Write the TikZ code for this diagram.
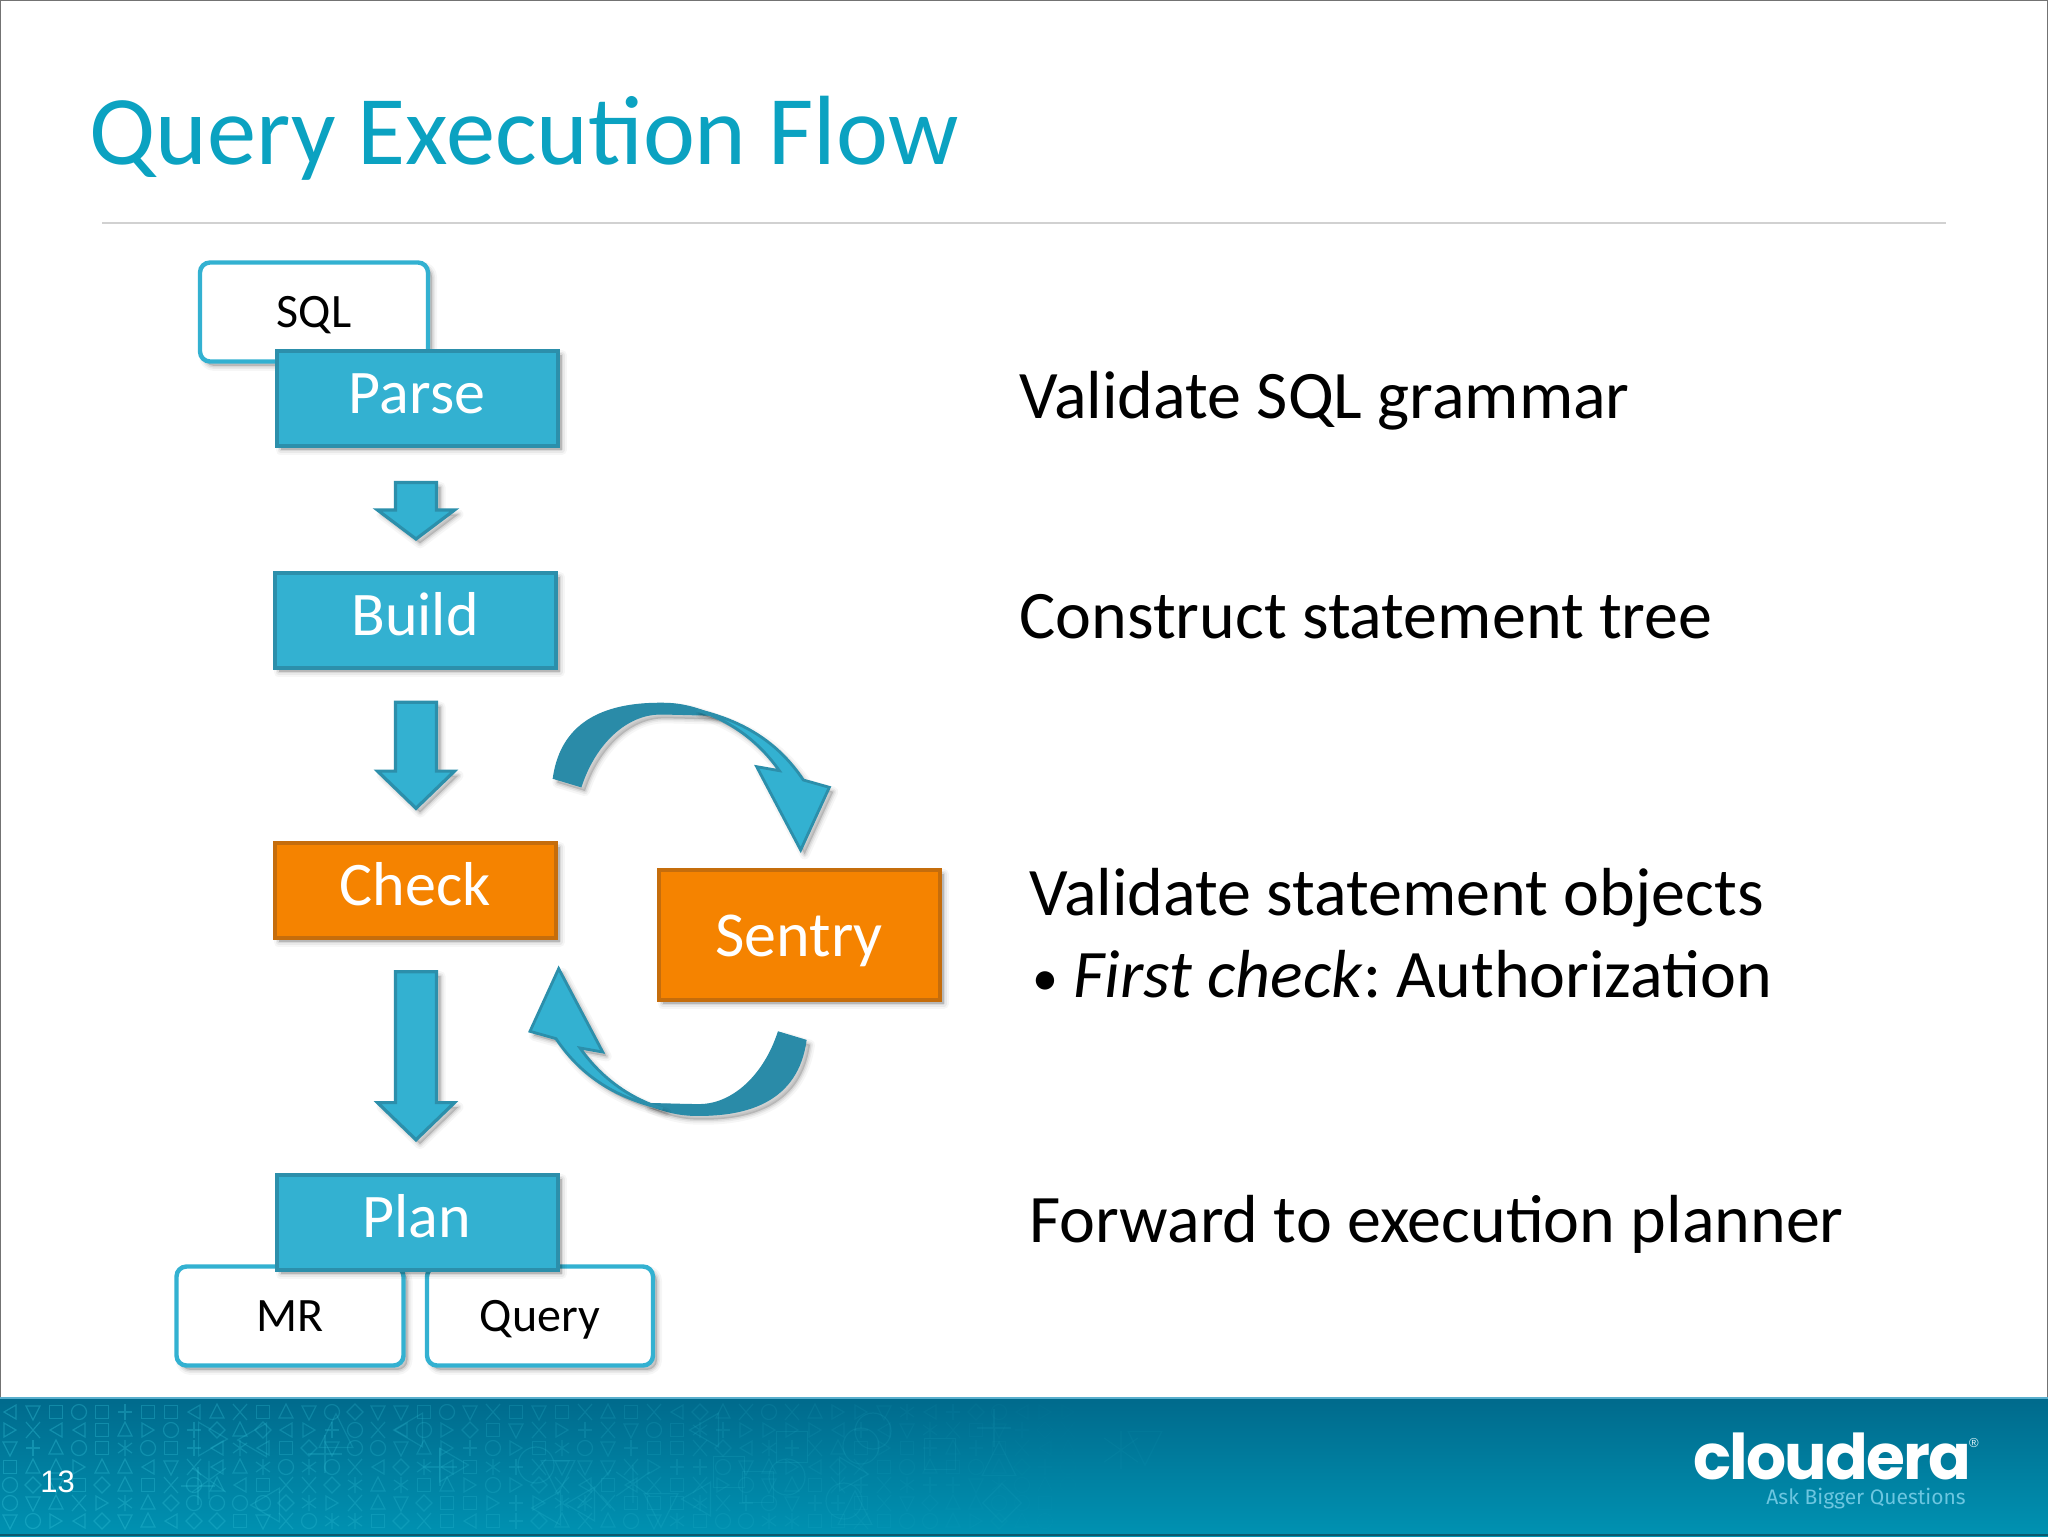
\documentclass[tikz,border=0pt]{standalone}
\usepackage{fontspec}
\setmainfont{Carlito}
\newfontfamily\logofont{Poppins}[LetterSpace=-3]
\newfontfamily\tagfont{Fira Sans}
\newfontfamily\numfont{Liberation Sans}
\usetikzlibrary{shapes.arrows}
\definecolor{blueFill}{HTML}{33B1D1}
\definecolor{blueEdge}{HTML}{2C8FAB}
\definecolor{ribbon}{HTML}{2A8BA8}
\definecolor{orangeFill}{HTML}{F58300}
\definecolor{orangeEdge}{HTML}{C56D0C}
\definecolor{titleBlue}{HTML}{0BA2C1}
\definecolor{glyphCol}{HTML}{35C4DA}
\definecolor{tagCol}{HTML}{6CC6E0}
\definecolor{footTop}{HTML}{006A8C}
\definecolor{footBottom}{HTML}{0092B2}
\definecolor{footLine}{HTML}{5AAFCD}
\definecolor{footEdge}{HTML}{0C5A6E}
\newcommand{\fsz}[1]{\fontsize{#1}{#1}\selectfont}
\newcommand{\footglyph}[1]{%
  \ifcase#1
    \draw (0,0) circle (7.5);
  \or \draw (-7,6) -- (0,-8) -- (7,6) -- cycle;
  \or \draw (-7,-6) -- (0,8) -- (7,-6) -- cycle;
  \or \draw (6,-7) -- (-6,0) -- (6,7) -- cycle;
  \or \draw (-6,-7) -- (6,0) -- (-6,7) -- cycle;
  \or \draw (-6.5,-6.5) rectangle (6.5,6.5);
  \or \draw (-8,0) -- (0,-8) -- (8,0) -- (0,8) -- cycle;
  \or \draw (-7,-8) -- (7,8) (-7,8) -- (7,-8);
  \or \draw (-7,-5) -- (7,5) (-7,5) -- (7,-5) (0,-8) -- (0,8);
  \or \draw (-7,0) -- (7,0) (0,-8) -- (0,8);
  \fi}
\tikzset{
  softshadow/.style={
    preaction={draw=black,fill=black,opacity=.035,line width=5pt,line join=round,
      transform canvas={shift={(2pt,-2.2pt)}}},
    preaction={draw=black,fill=black,opacity=.05,line width=3pt,line join=round,
      transform canvas={shift={(2pt,-2.2pt)}}},
    preaction={draw=black,fill=black,opacity=.07,line width=1.5pt,line join=round,
      transform canvas={shift={(2pt,-2.2pt)}}}},
  bluebox/.style={rectangle,draw=blueEdge,fill=blueFill,line width=2pt,
    inner sep=0pt,text=white,font=\fsz{31},text height=19.5pt,text depth=4pt,softshadow},
  orangebox/.style={rectangle,draw=orangeEdge,fill=orangeFill,line width=2pt,
    inner sep=0pt,text=white,font=\fsz{31},text height=19.5pt,text depth=4pt,softshadow},
  outlinebox/.style={rectangle,rounded corners=5pt,draw=blueFill,fill=white,line width=2.2pt,
    inner sep=0pt,text=black,font=\fsz{24},text height=19.5pt,text depth=4pt,softshadow},
  blockarrow/.style={single arrow,shape border rotate=270,draw=blueEdge,fill=blueFill,
    line width=1.6pt,inner sep=9.45pt,minimum width=37pt,single arrow head extend=9pt,
    single arrow head indent=0pt,anchor=tip,softshadow,text width=0pt},
  side/.style={anchor=base west,inner sep=0pt,text=black,font=\fsz{34}},
  glyphline/.style={draw=glyphCol,line width=.6pt}
}
\begin{document}
\begin{tikzpicture}[x=.5pt,y=-.5pt]
\useasboundingbox (0,0) rectangle (2048,1536);
\fill[white] (0,0) rectangle (2048,1536);
\draw[draw=black!55,line width=.8pt] (0,0) rectangle (2048,1536);

% title and rule
\node[anchor=base west,inner sep=0pt,text=titleBlue,font=\fsz{49.2}] (title) at (89,164) {Query Execution Flow};
\draw[draw=black!18,line width=.8pt] (102,223) -- (1946,223);

% outline boxes sit behind the blue ones
\node[outlinebox,minimum width=114pt,minimum height=49.5pt] (sql) at (314,312) {SQL};
\node[outlinebox,minimum width=113.5pt,minimum height=49.5pt] (mr) at (290,1316) {MR};
\node[outlinebox,minimum width=113pt,minimum height=49.5pt] (query) at (540,1316) {Query};

\node[bluebox,minimum width=140.5pt,minimum height=47.5pt] (parse) at (417,398) {Parse};
\node[bluebox,minimum width=140.5pt,minimum height=47.5pt] (build) at (415,620) {Build};
\node[orangebox,minimum width=140.5pt,minimum height=47.5pt] (check) at (415,890) {Check};
\node[orangebox,font=\fsz{32},text height=25.5pt,minimum width=140.5pt,minimum height=65pt] (sentry) at (799,934.5) {Sentry};
\node[bluebox,minimum width=140.5pt,minimum height=47.5pt] (plan) at (417,1222) {Plan};

% straight block arrows
\node[blockarrow,minimum height=28pt,single arrow tip angle=106] (arrowA) at (416,541) {};
\node[blockarrow,minimum height=53pt,single arrow tip angle=92] (arrowB) at (416,810.5) {};
\node[blockarrow,minimum height=84pt,single arrow tip angle=92] (arrowC) at (416,1142) {};

% curved arrows
\foreach \turn in {0,180}{
\begin{scope}[shift={(500,680)},x=.5pt/3,y=-.5pt/3,rotate around={\turn:(539,688)}]
  \path[softshadow,fill=ribbon,draw=ribbon,line width=.6pt]
    (160,295) .. controls (185,115) and (330,68) .. (490,70)
    .. controls (540,70) and (590,82) .. (640,105)
    .. controls (590,105) and (530,102) .. (480,102)
    .. controls (380,102) and (285,190) .. (243,320) -- cycle;
  \path[softshadow,fill=blueFill,draw=blueEdge,line width=1.4pt,line join=miter]
    (590,90) .. controls (720,120) and (830,180) .. (910,300)
    -- (988,322) -- (902,510) -- (770,260) -- (838,272)
    .. controls (780,190) and (700,125) .. (590,90) -- cycle;
\end{scope}}

% descriptions
\node[side] (t1) at (1019,418.5) {Validate SQL grammar};
\node[side] (t2) at (1019,638) {Construct statement tree};
\node[side] (t3) at (1029,915) {Validate statement objects};
\node[side] (t4) at (1029,997) {\hspace{1.5pt}{\fsz{26}\raisebox{1pt}{•}}\hspace{7.7pt}\textit{First check}:\hspace{7.3pt}Authorization};
\node[side] (t5) at (1029,1242.5) {Forward to execution planner};

% footer
\shade[top color=footTop,bottom color=footBottom] (0,1398) rectangle (2048,1536);
\draw[draw=footLine,line width=.8pt] (0,1398) -- (2048,1398);
\pgfmathsetseed{1313}
\begin{scope}[glyphline]
\foreach \gy in {1412,1430,1448,1467,1485,1503,1521}{
  \foreach \gx in {10,33,...,1080}{
    \pgfmathrandominteger{\gk}{0}{9}
    \pgfmathsetmacro{\gop}{max(0,.36*(1-\gx/1120))}
    \begin{scope}[shift={(\gx,\gy)},draw opacity=\gop]
      \footglyph{\gk}
    \end{scope}
  }
}
\foreach \i in {1,...,34}{
  \pgfmathrandominteger{\gk}{0}{9}
  \pgfmathrandominteger{\gx}{40}{1300}
  \pgfmathrandominteger{\gy}{1425}{1515}
  \pgfmathsetmacro{\gop}{max(0,.3*(1-\gx/1400))}
  \begin{scope}
    \clip (0,1399) rectangle (2048,1535);
    \begin{scope}[shift={(\gx,\gy)},draw opacity=\gop,x=1.2pt,y=-1.2pt]
      \footglyph{\gk}
    \end{scope}
  \end{scope}
}
\end{scope}
\draw[draw=footEdge,line width=.8pt] (0,1535) -- (2048,1535);

\node[anchor=base west,inner sep=0pt,text=white,font=\numfont\fsz{15.5}] (pagenum) at (40,1492) {13};
\node[anchor=base west,inner sep=0pt,text=white,text height=24pt,text depth=0pt,font=\logofont\bfseries\fsz{31.5}] (logo) at (1693,1479) {cloudera};
\node[inner sep=0pt,text=white!80!tagCol,font=\numfont\fsz{6.5}] (regmark) at (1974,1443) {®};
\node[anchor=base west,inner sep=0pt,text=tagCol,font=\tagfont\fsz{10.5}] (tag) at (1766,1504) {Ask Bigger Questions};
\end{tikzpicture}
\end{document}
